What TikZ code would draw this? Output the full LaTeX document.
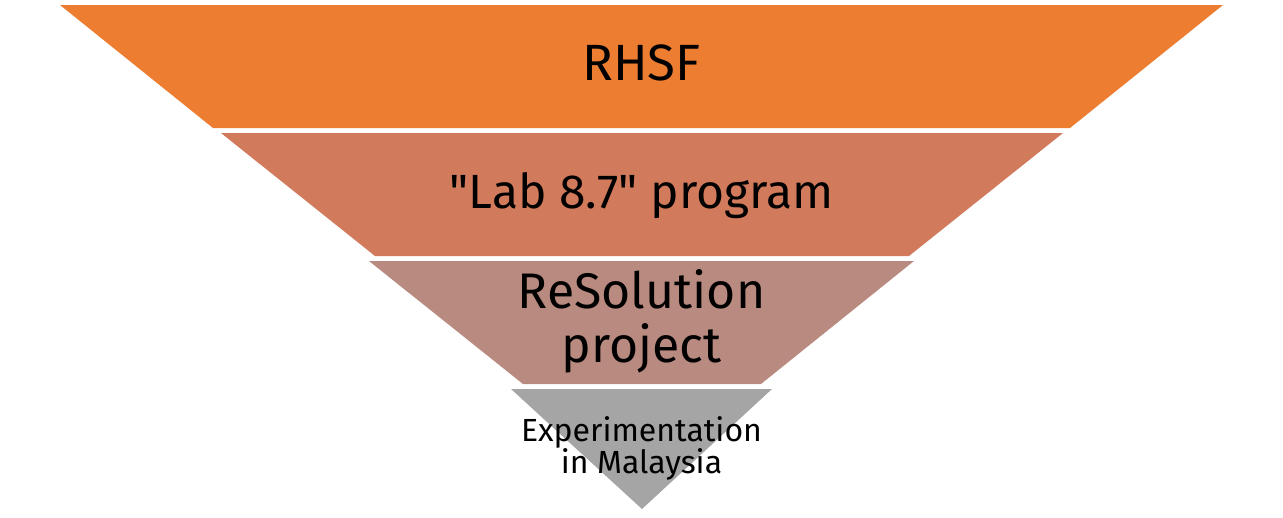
\documentclass[tikz,border=0pt]{standalone}
\usepackage{fontspec}
\setmainfont{Fira Sans}
\definecolor{cA}{HTML}{ED7D31}
\definecolor{cB}{HTML}{D17A5C}
\definecolor{cC}{HTML}{B98A80}
\definecolor{cD}{HTML}{A5A5A5}
\begin{document}
\begin{tikzpicture}[x=1pt,y=-1pt,
  lbl/.style={anchor=base, text=black, inner sep=0pt},
  big/.style={lbl, font=\fontsize{51}{61}\selectfont},
  wide/.style={lbl, font=\fontsize{48}{58}\selectfont},
  mid/.style={lbl, font=\fontsize{50}{60}\selectfont},
  small/.style={lbl, font=\fontsize{32}{38}\selectfont}]
\useasboundingbox (0,0) rectangle (1283,517);
\fill[cA] (60,5) -- (1223,5) -- (1070,128) -- (213,128) -- cycle;
\fill[cB] (221,133) -- (1063,133) -- (909,256) -- (375,256) -- cycle;
\fill[cC] (369,261) -- (914,261) -- (761,384) -- (523,384) -- cycle;
\fill[cD] (511,389) -- (772,389) -- (642,509) -- cycle;
\node[big] (t1) at (641.5,80) {RHSF};
\node[wide] (t2) at (641.5,208) {\textquotedbl Lab 8.7\textquotedbl{} program};
\node[mid] (t3a) at (641.5,308) {ReSolution};
\node[mid] (t3b) at (641.5,362) {project};
\node[small] (t4a) at (641.5,441) {Experimentation};
\node[small] (t4b) at (641.5,473) {in Malaysia};
\end{tikzpicture}
\end{document}
